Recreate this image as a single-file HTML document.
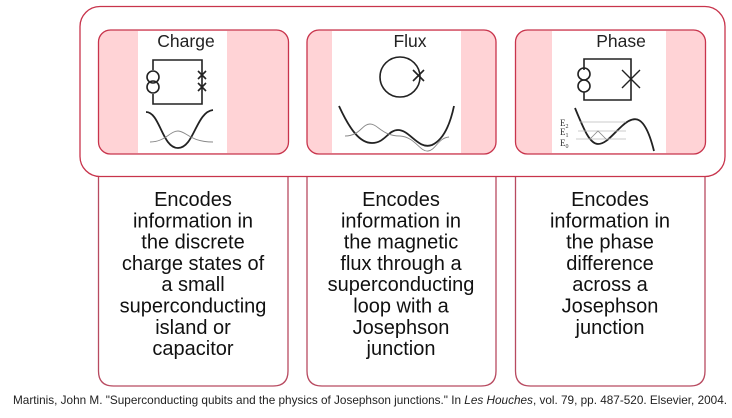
<!DOCTYPE html>
<html><head><meta charset="utf-8"><style>
body{margin:0;background:#fff;width:732px;height:413px;overflow:hidden;font-family:"Liberation Sans",Arial,sans-serif}
</style></head><body>
<svg width="732" height="413" viewBox="0 0 732 413" xmlns="http://www.w3.org/2000/svg" font-family="Liberation Sans, Arial, sans-serif">
<g fill="#fff" stroke="#b84a60" stroke-width="1.3">
<path d="M98.5 150 V371 Q98.5 386 113.5 386 H273 Q288 386 288 371 V150"/>
<path d="M307 150 V371 Q307 386 322 386 H481 Q496 386 496 371 V150"/>
<path d="M515.5 150 V371 Q515.5 386 530.5 386 H690 Q705 386 705 371 V150"/>
</g>
<rect x="80" y="6.5" width="645" height="170" rx="20" fill="#fff" stroke="#c8344c" stroke-width="1.3"/>
<g fill="#ffd3d6" stroke="#c8344c" stroke-width="1.3">
<rect x="98.5" y="30" width="190" height="124" rx="12"/>
<rect x="307" y="30" width="189" height="124" rx="12"/>
<rect x="515.5" y="30" width="190" height="124" rx="12"/>
</g>
<g fill="#fff">
<rect x="138" y="31" width="89" height="122"/>
<rect x="332" y="31" width="129" height="122"/>
<rect x="552" y="31" width="114" height="122"/>
</g>
<g font-size="17.5" fill="#222" text-anchor="middle">
<text x="186" y="47">Charge</text>
<text x="410" y="47">Flux</text>
<text x="621" y="47">Phase</text>
</g>
<g fill="none" stroke="#222" stroke-width="1.6">
<path d="M153 70 V60 H202 V104 H153 V94"/>
<circle cx="153" cy="77" r="6"/><circle cx="153" cy="87" r="6"/>
<path d="M198 71 l8 8 M206 71 l-8 8 M198 83 l8 8 M206 83 l-8 8"/>
<path d="M146 112 C160 112 162 148 178 148 C194 148 196 112 213 110" stroke-width="1.8"/>
<path d="M150 142 C165 142 170 131 178 131 C186 131 190 142 213 142" stroke="#888" stroke-width="0.9"/>
</g>
<g fill="none" stroke="#222" stroke-width="1.6">
<circle cx="400" cy="77" r="20"/>
<path d="M413 70 l11 11 M424 70 l-11 11"/>
<path d="M339 106 C350 130 360 143 372 143 C385 143 388 130 398 130 C410 130 418 150 432 145 C443 140 450 125 454 106" stroke-width="1.8"/>
<path d="M345 136 C360 136 362 124 370 124 C378 124 382 136 400 136 C415 137 420 152 428 151 C436 150 438 138 449 137" stroke="#888" stroke-width="0.9"/>
</g>
<g fill="none" stroke="#222" stroke-width="1.6">
<path d="M584 70 V59 H631 V100 H584 V92"/>
<circle cx="584" cy="74" r="6"/><circle cx="584" cy="86" r="6"/>
<path d="M622 70 l18 18 M640 70 l-18 18" stroke-width="1.4"/>
<path d="M575 108 C584 130 590 144 598 144 C606 144 612 135 622 126 C635 114 645 115 654 151" stroke-width="1.8"/>
<path d="M580 122 H626 M578 131 H626 M576 139 H626" stroke="#bbb" stroke-width="0.7"/>
<path d="M590 139 L598 131 L606 139" stroke="#888" stroke-width="0.8"/>
</g>
<g font-family="Liberation Serif, serif" font-size="9" fill="#333">
<text x="560" y="126">E<tspan font-size="6" dy="2">2</tspan></text>
<text x="560" y="135">E<tspan font-size="6" dy="2">1</tspan></text>
<text x="560" y="146">E<tspan font-size="6" dy="2">0</tspan></text>
</g>
<g font-size="20" fill="#111" text-anchor="middle">
<text x="193" y="206"><tspan x="193">Encodes</tspan><tspan x="193" dy="21.3">information in</tspan><tspan x="193" dy="21.3">the discrete</tspan><tspan x="193" dy="21.3">charge states of</tspan><tspan x="193" dy="21.3">a small</tspan><tspan x="193" dy="21.3">superconducting</tspan><tspan x="193" dy="21.3">island or</tspan><tspan x="193" dy="21.3">capacitor</tspan></text>
<text x="401" y="206"><tspan x="401">Encodes</tspan><tspan x="401" dy="21.3">information in</tspan><tspan x="401" dy="21.3">the magnetic</tspan><tspan x="401" dy="21.3">flux through a</tspan><tspan x="401" dy="21.3">superconducting</tspan><tspan x="401" dy="21.3">loop with a</tspan><tspan x="401" dy="21.3">Josephson</tspan><tspan x="401" dy="21.3">junction</tspan></text>
<text x="610" y="206"><tspan x="610">Encodes</tspan><tspan x="610" dy="21.3">information in</tspan><tspan x="610" dy="21.3">the phase</tspan><tspan x="610" dy="21.3">difference</tspan><tspan x="610" dy="21.3">across a</tspan><tspan x="610" dy="21.3">Josephson</tspan><tspan x="610" dy="21.3">junction</tspan></text>
</g>
<text x="13" y="404" font-size="11.7" fill="#222" textLength="714" lengthAdjust="spacingAndGlyphs">Martinis, John M. "Superconducting qubits and the physics of Josephson junctions." In <tspan font-style="italic">Les Houches</tspan>, vol. 79, pp. 487-520. Elsevier, 2004.</text>
</svg>
</body></html>
